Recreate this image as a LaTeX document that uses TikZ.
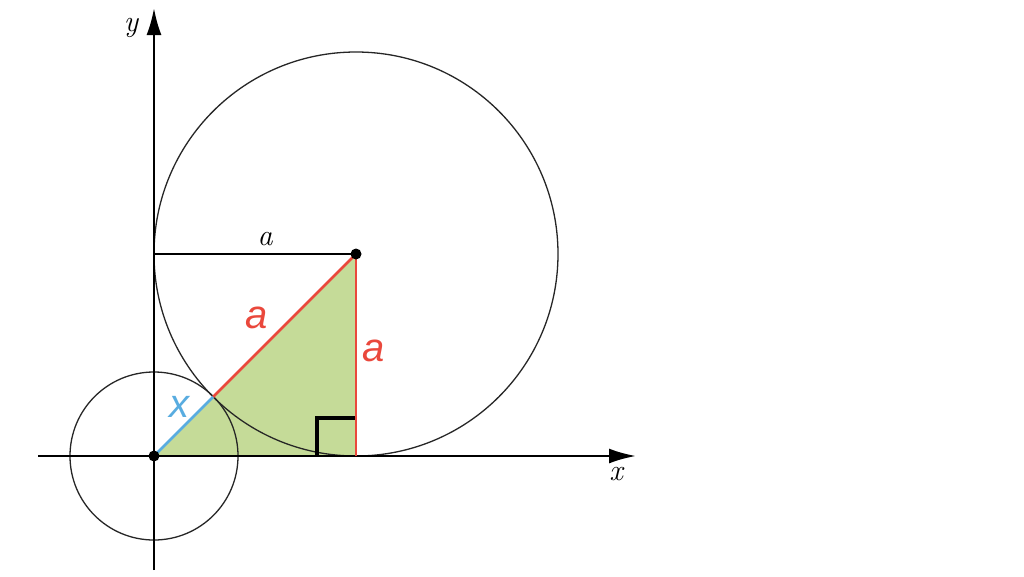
\documentclass[tikz,border=0pt]{standalone}
\usepackage{fontspec}
\newfontfamily\labsans{Liberation Sans}
\usetikzlibrary{arrows.meta,calc}
\definecolor{tri}{RGB}{197,219,152}
\definecolor{redl}{RGB}{234,72,60}
\definecolor{bluel}{RGB}{88,172,224}
\tikzset{
  axis/.style={line width=2.4pt,-{Latex[length=27pt,width=15pt]}},
  circ/.style={line width=1.3pt,draw=black!85},
  redseg/.style={line width=2.6pt,draw=redl},
  blueseg/.style={line width=2.6pt,draw=bluel},
  serlab/.style={font=\itshape\fontsize{30}{30}\selectfont},
  sanslab/.style={font=\labsans\itshape\fontsize{40}{40}\selectfont},
  dot/.style={circle,fill=black,inner sep=0pt,minimum size=11pt}
}
\begin{document}
\begin{tikzpicture}[x=1pt,y=-1pt]
\useasboundingbox[fill=white] (0,0) rectangle (1024,576);
\coordinate (O) at (154,456);
\coordinate (C) at (356,254);
\coordinate (F) at (356,456);
\coordinate (Y) at (154,254);
\coordinate (T) at ($(O)!0.2929!(C)$);
\coordinate (xs) at (38,456);
\coordinate (xe) at (636,456);
\coordinate (ys) at (154,570);
\coordinate (ye) at (154,8);
% triangle fill
\fill[tri] (O) -- (F) -- (C) -- cycle;
% circles
\draw[circ] (C) circle (202);
\draw[circ] (O) circle (84);
% axes
\draw[axis] (xs) -- (xe);
\draw[axis] (ys) -- (ye);
\node[serlab] (xl) at (616,474) {x};
\node[serlab] (yl) at (131,28) {y};
% radius a
\draw[line width=1.5pt] (Y) -- (C);
\node[serlab] (al) at (265,239) {a};
% right angle
\draw[line width=3.2pt] ($(F)+(-39,0)$) -- ($(F)+(-39,-38)$) -- ($(F)+(0,-38)$);
% segments
\draw[blueseg] (O) -- (T);
\draw[redseg] (T) -- (C);
\draw[redseg] (C) -- (F);
% dots
\node[dot] (od) at (O) {};
\node[dot] (cd) at (C) {};
% labels
\node[sanslab,text=redl] (a1) at (257,318) {a};
\node[sanslab,text=redl] (a2) at (374,351) {a};
\node[sanslab,text=bluel] (xlab) at (179,407) {x};
\end{tikzpicture}
\end{document}
